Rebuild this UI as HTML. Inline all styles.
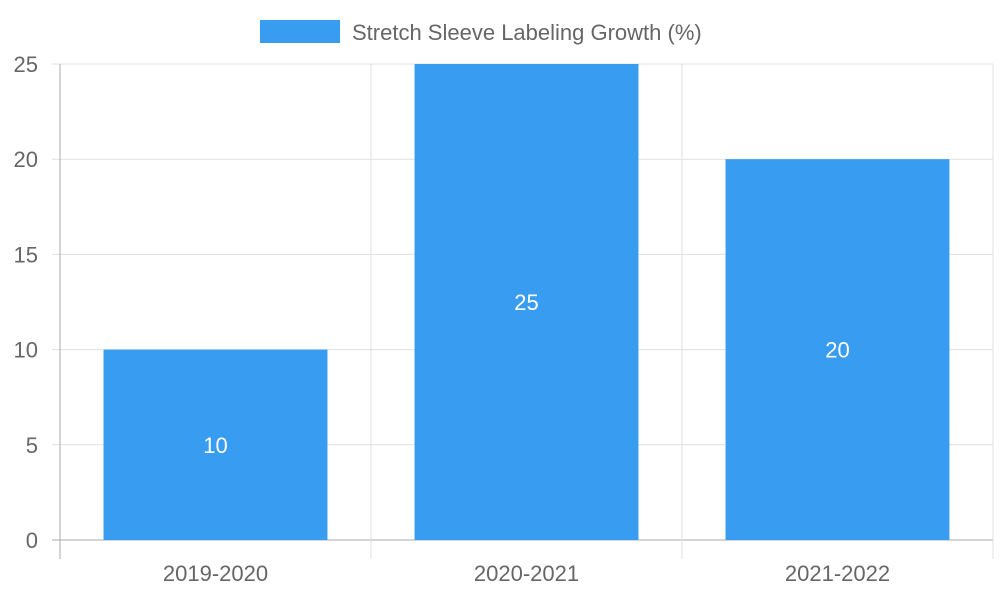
<!DOCTYPE html>
<html><head><meta charset="utf-8"><style>
body{margin:0;background:#fff;}
svg{display:block;font-family:"Liberation Sans",sans-serif;}
</style></head><body>
<svg id="chart" width="1000" height="600">
<g id="legend">
<rect x="260" y="20" width="80" height="23" fill="#389cf0"/>
<text x="352" y="40" font-size="22" fill="#666">Stretch Sleeve Labeling Growth (%)</text>
</g>
<g id="grid"></g><g id="bars"></g><g id="labels"></g>
</svg>
<script>
const categories=["2019-2020","2020-2021","2021-2022"];
const values=[10,25,20];
const yTicks=[0,5,10,15,20,25];
const L=60,R=993,T=64,B=540,yMax=25;
const ns="http://www.w3.org/2000/svg";
const svg=document.getElementById('chart');
const grid=document.getElementById('grid'),bars=document.getElementById('bars'),labels=document.getElementById('labels');
function y(v){return B-(v/yMax)*(B-T);}
const bw=(R-L)/categories.length;
function x(i){return L+i*bw;}
function mk(tag,attrs,parent){const e=document.createElementNS(ns,tag);for(const k in attrs)e.setAttribute(k,attrs[k]);parent.appendChild(e);return e;}
yTicks.forEach(t=>{
 const l=mk('line',{x1:L-8,x2:R,y1:y(t),y2:y(t),stroke:t===0?'#aaa':'#e0e0e0','stroke-width':1},grid);
 
 
 const tx=mk('text',{x:L-22,y:y(t)+8,'text-anchor':'end','font-size':22,fill:'#666'},labels);
 tx.textContent=t;
 
 
});
for(let i=0;i<=categories.length;i++){
 const l=mk('line',{x1:x(i),x2:x(i),y1:T,y2:B+19,stroke:i===0?'#aaa':'#e0e0e0','stroke-width':1},grid);
 
 
}
categories.forEach((c,i)=>{
 const w=bw*0.72,cx=x(i)+bw/2;
 const r=mk('rect',{x:cx-w/2,y:y(values[i]),width:w,height:B-y(values[i]),fill:'#389cf0'},bars);
 
 
 const v=mk('text',{x:cx,y:(y(values[i])+B)/2+8,'text-anchor':'middle','font-size':22,fill:'#fff'},labels);
 v.textContent=values[i];
 
 
 const t=mk('text',{x:cx,y:581,'text-anchor':'middle','font-size':22,fill:'#666'},labels);
 t.textContent=c;
 
 
});
</script>
</body></html>
